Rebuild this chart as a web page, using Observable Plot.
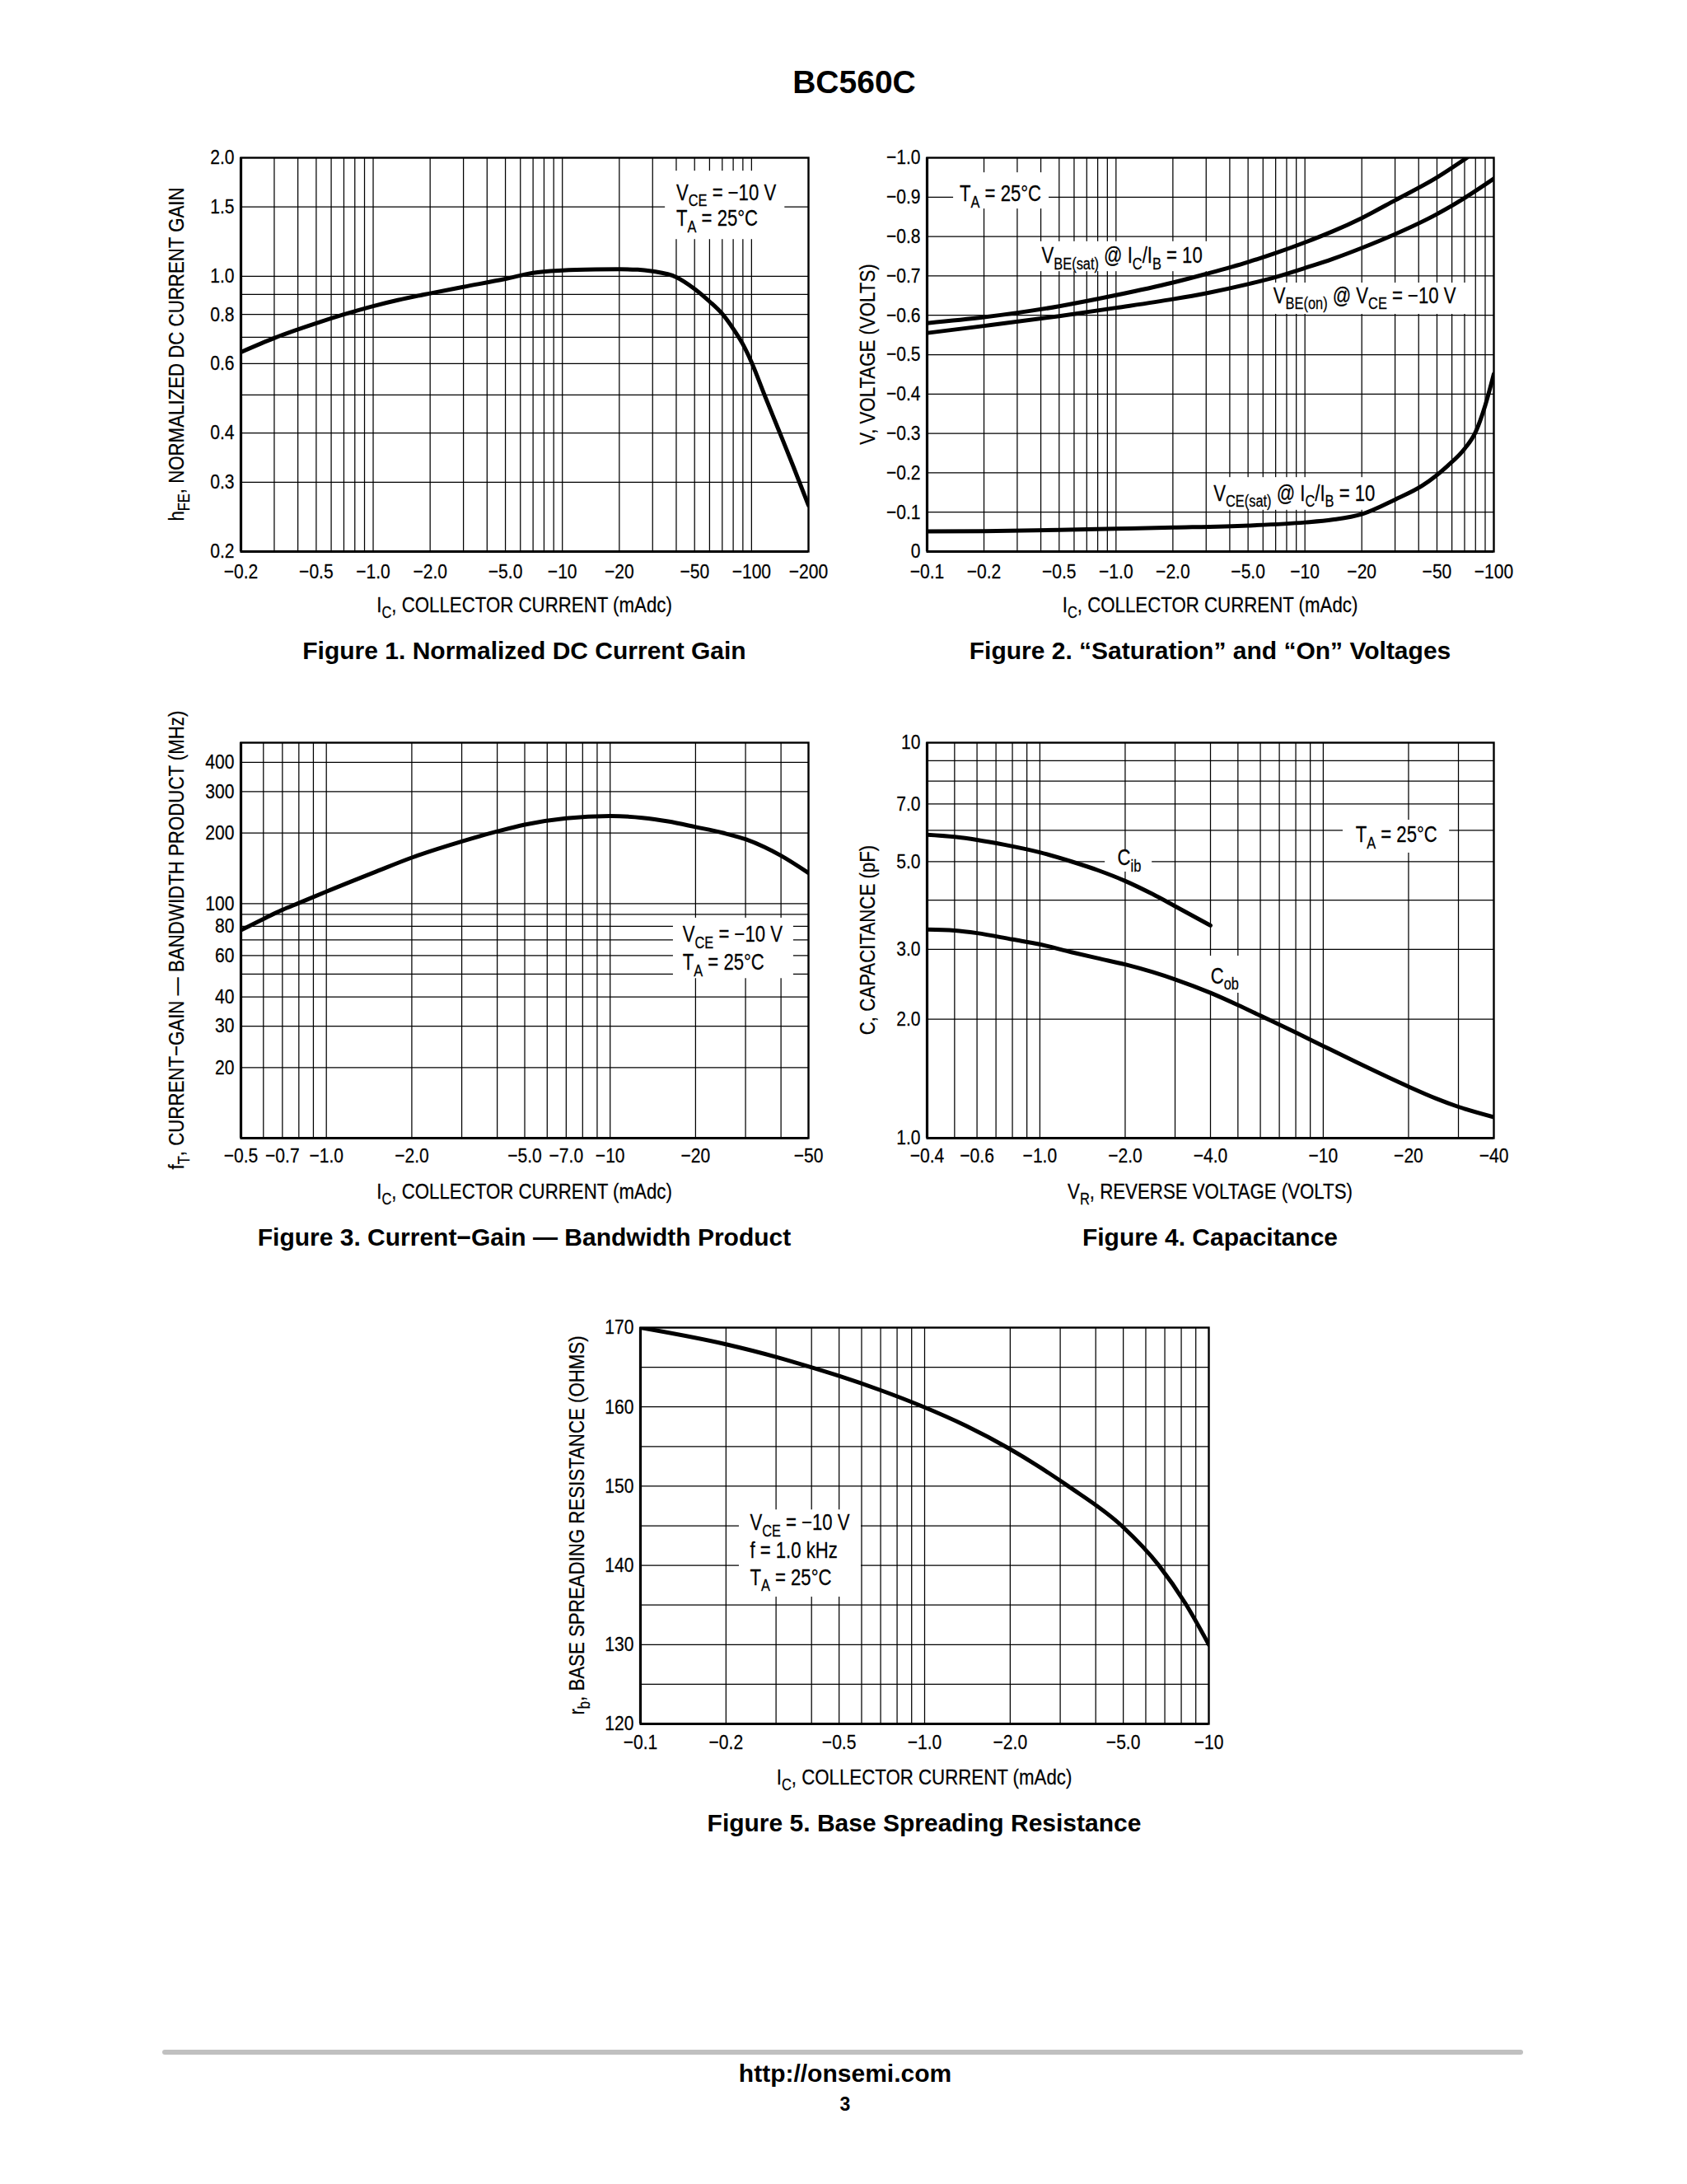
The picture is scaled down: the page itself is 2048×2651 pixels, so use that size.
<!DOCTYPE html>
<html>
<head>
<meta charset="utf-8">
<script src="https://cdn.jsdelivr.net/npm/d3@7"></script>
<script src="https://cdn.jsdelivr.net/npm/@observablehq/plot@0.6"></script>
<style>
  html, body { margin: 0; padding: 0; background: #fff; }
  #page { position: relative; width: 2048px; height: 2651px; overflow: hidden; background: #fff; }
  #page svg { position: absolute; }
</style>
</head>
<body>
<div id="page"></div>
<script>
// ---------------- DATA ----------------
// Figure 1 — Normalized DC current gain
const fig1Ic  = [0.2, 0.3, 0.5, 0.7, 1.0, 1.35, 2.0, 3.0, 5.0, 7.0, 10, 15, 20, 25, 30, 40, 50, 60, 70, 80, 90, 100, 117, 140, 165, 200];
const fig1Hfe = [0.642, 0.697, 0.76, 0.80, 0.84, 0.87, 0.905, 0.94, 0.985, 1.02, 1.035, 1.041, 1.042, 1.04, 1.03, 0.995, 0.929, 0.863, 0.803, 0.736, 0.672, 0.605, 0.50, 0.404, 0.332, 0.262];
const fig1XTicks  = [0.2, 0.5, 1, 2, 5, 10, 20, 50, 100, 200];
const fig1XLabels = ["−0.2", "−0.5", "−1.0", "−2.0", "−5.0", "−10", "−20", "−50", "−100", "−200"];
const fig1YTicks  = [0.2, 0.3, 0.4, 0.6, 0.8, 1.0, 1.5, 2.0];
const fig1YLabels = ["0.2", "0.3", "0.4", "0.6", "0.8", "1.0", "1.5", "2.0"];
const fig1YGrid   = [0.3, 0.4, 0.5, 0.6, 0.7, 0.8, 0.9, 1.0, 1.5];

// Figure 2 — "Saturation" and "On" voltages (magnitudes, volts)
const fig2VbeSatIc = [0.1, 0.2, 0.5, 1.0, 2.0, 3.0, 5.0, 7.0, 10, 14, 20, 30, 50, 72];
const fig2VbeSat   = [0.58, 0.595, 0.623, 0.651, 0.683, 0.705, 0.735, 0.758, 0.785, 0.813, 0.847, 0.892, 0.950, 1.0];
const fig2VbeOnIc  = [0.1, 0.2, 0.5, 1.0, 2.0, 3.0, 5.0, 7.0, 10, 14, 20, 30, 50, 70, 100];
const fig2VbeOn    = [0.555, 0.573, 0.598, 0.619, 0.641, 0.656, 0.679, 0.697, 0.72, 0.743, 0.771, 0.806, 0.857, 0.898, 0.947];
const fig2VceSatIc = [0.1, 0.2, 0.5, 1.0, 2.0, 5.0, 10, 14, 20, 30, 42, 57, 70, 80, 90, 100];
const fig2VceSat   = [0.051, 0.052, 0.055, 0.058, 0.061, 0.066, 0.074, 0.081, 0.095, 0.132, 0.168, 0.218, 0.261, 0.303, 0.371, 0.451];
const fig2XTicks  = [0.1, 0.2, 0.5, 1, 2, 5, 10, 20, 50, 100];
const fig2XLabels = ["−0.1", "−0.2", "−0.5", "−1.0", "−2.0", "−5.0", "−10", "−20", "−50", "−100"];
const fig2YTicks  = [0, 0.1, 0.2, 0.3, 0.4, 0.5, 0.6, 0.7, 0.8, 0.9, 1.0];
const fig2YLabels = ["0", "−0.1", "−0.2", "−0.3", "−0.4", "−0.5", "−0.6", "−0.7", "−0.8", "−0.9", "−1.0"];
const fig2YGrid   = [0.1, 0.2, 0.3, 0.4, 0.5, 0.6, 0.7, 0.8, 0.9];

// Figure 3 — Current-gain bandwidth product (MHz)
const fig3Ic = [0.5, 0.6, 0.7, 0.8, 1.0, 1.5, 2.0, 3.0, 4.0, 5.0, 7.0, 10, 13, 16, 20, 25, 30, 35, 40, 50];
const fig3Ft = [77, 86, 94, 100.5, 112.5, 137, 157, 184, 203, 217, 231, 236, 232, 224, 212, 200, 188, 174, 160, 135];
const fig3XTicks  = [0.5, 0.7, 1, 2, 5, 7, 10, 20, 50];
const fig3XLabels = ["−0.5", "−0.7", "−1.0", "−2.0", "−5.0", "−7.0", "−10", "−20", "−50"];
const fig3YTicks  = [20, 30, 40, 60, 80, 100, 200, 300, 400];
const fig3YLabels = ["20", "30", "40", "60", "80", "100", "200", "300", "400"];
const fig3YGrid   = [20, 30, 40, 50, 60, 70, 80, 90, 100, 200, 300, 400];

// Figure 4 — Capacitance (pF) vs reverse voltage
const fig4CibV = [0.4, 0.5, 0.6, 0.75, 1.0, 1.3, 1.6, 2.0, 2.5, 3.0, 4.0];
const fig4Cib  = [5.85, 5.78, 5.68, 5.52, 5.28, 5.0, 4.76, 4.47, 4.14, 3.86, 3.45];
const fig4CobV = [0.4, 0.5, 0.6, 0.8, 1.0, 1.3, 1.6, 2.0, 2.5, 3.0, 4.0, 5.0, 6.0, 8.0, 10, 13, 20, 25, 30, 40];
const fig4Cob  = [3.37, 3.35, 3.30, 3.18, 3.09, 2.95, 2.85, 2.75, 2.63, 2.52, 2.33, 2.17, 2.04, 1.85, 1.71, 1.56, 1.35, 1.26, 1.20, 1.13];
const fig4XTicks  = [0.4, 0.6, 1, 2, 4, 10, 20, 40];
const fig4XLabels = ["−0.4", "−0.6", "−1.0", "−2.0", "−4.0", "−10", "−20", "−40"];
const fig4YTicks  = [1, 2, 3, 5, 7, 10];
const fig4YLabels = ["1.0", "2.0", "3.0", "5.0", "7.0", "10"];
const fig4YGrid   = [2, 3, 4, 5, 6, 7, 8, 9];

// Figure 5 — Base spreading resistance (ohms)
const fig5Ic = [0.1, 0.2, 0.3, 0.39, 0.5, 0.7, 0.96, 1.4, 1.97, 3.2, 4.97, 6.67, 8.27, 10];
const fig5Rb = [170, 167.9, 166.3, 165.1, 163.9, 162.1, 160.2, 157.6, 154.8, 150, 144.9, 140, 135.2, 130];
const fig5XTicks  = [0.1, 0.2, 0.5, 1, 2, 5, 10];
const fig5XLabels = ["−0.1", "−0.2", "−0.5", "−1.0", "−2.0", "−5.0", "−10"];
const fig5YTicks  = [120, 130, 140, 150, 160, 170];
const fig5YLabels = ["120", "130", "140", "150", "160", "170"];
const fig5YGrid   = [125, 130, 135, 140, 145, 150, 155, 160, 165];

// ---------------- LAYOUT / STYLE ----------------
const SANS = "'Liberation Sans', Arial, Helvetica, sans-serif";
const SX_TICK = 0.86, SX_TITLE = 0.84, SX_NOTE = 0.82;   // horizontal condensing (Helvetica Condensed look)
const TICK_FS = 24.5, TITLE_FS = 26.5, NOTE_FS = 27;
const ML = 110, MR = 40, MT = 20, MB = 110;

function zip(xs, ys) { return xs.map((x, i) => ({x, y: ys[i]})); }
function logGrid(lo, hi) {
  const out = [];
  for (let e = Math.floor(Math.log10(lo)) - 1; e <= Math.ceil(Math.log10(hi)); e++)
    for (let m = 1; m < 10; m++) {
      const v = +(m * Math.pow(10, e)).toPrecision(6);
      if (v > lo * 1.0001 && v < hi / 1.0001) out.push(v);
    }
  return out;
}

function rich(g, str, x, y, o = {}) {
  const fs = o.size || NOTE_FS;
  const t = g.append("text")
    .attr("transform", `translate(${x},${y})${o.rotate ? " rotate(-90)" : ""} scale(${o.sx || SX_NOTE},1)`)
    .attr("font-family", SANS)
    .attr("font-size", fs)
    .attr("fill", "#000")
    .attr("stroke", "#000").attr("stroke-width", 0.25)
    .attr("text-anchor", o.anchor || "start");
  const parts = str.split(/(_\{[^}]*\})/).filter(s => s.length);
  let shifted = false;
  const sh = fs * 0.28;
  for (const p of parts) {
    if (p.startsWith("_{")) {
      t.append("tspan").attr("font-size", fs * 0.74).attr("dy", shifted ? 0 : sh).text(p.slice(2, -1));
      shifted = true;
    } else {
      t.append("tspan").attr("dy", shifted ? -sh : 0).text(p);
      shifted = false;
    }
  }
  return t;
}

function makeChart(c) {
  const W = c.R - c.L, H = c.B - c.T;
  const marks = [
    Plot.ruleX(c.xGrid, {stroke: "#000", strokeWidth: 1.25}),
    Plot.ruleY(c.yGrid, {stroke: "#000", strokeWidth: 1.25}),
    Plot.rect(c.boxes, {x1: "x1", x2: "x2", y1: "y1", y2: "y2", fill: "white"}),
    Plot.frame({stroke: "#000", strokeWidth: 2.4}),
    Plot.ruleY([c.yDomain[0]], {stroke: "#000", strokeWidth: 3.2}),
    Plot.ruleX([c.xDomain[0]], {stroke: "#000", strokeWidth: 3.2}),
    ...c.series.map(s => Plot.line(s, {x: "x", y: "y", stroke: "#000", strokeWidth: 5, curve: "monotone-x", clip: true})),
    // tick labels drawn as text marks positioned by the scales
    Plot.text(c.xTicks, {x: d => d, text: (d, i) => c.xLabels[i], frameAnchor: "bottom", dy: c.xTickDy,
      textAnchor: "middle", lineAnchor: "middle", fontSize: TICK_FS, fill: "#000", stroke: "#000", strokeWidth: 0.25}),
    Plot.text(c.yTicks, {y: d => d, text: (d, i) => c.yLabels[i], frameAnchor: "left", dx: -8,
      textAnchor: "end", lineAnchor: "middle", fontSize: TICK_FS, fill: "#000", stroke: "#000", strokeWidth: 0.25})
  ];
  const svg = Plot.plot({
    width: ML + W + MR, height: MT + H + MB,
    marginLeft: ML, marginRight: MR, marginTop: MT, marginBottom: MB,
    style: {fontFamily: SANS, fontSize: TICK_FS + "px", color: "#000", background: "transparent", overflow: "visible"},
    x: {type: "log", domain: c.xDomain, axis: null},
    y: {type: c.yType, domain: c.yDomain, axis: null},
    marks
  });
  svg.style.left = (c.L - ML) + "px";
  svg.style.top = (c.T - MT) + "px";
  // condense Plot's tick label texts horizontally around their anchors
  d3.select(svg).selectAll("text").each(function () {
    const tr = this.getAttribute("transform") || "";
    this.setAttribute("transform", `${tr} scale(${SX_TICK},1)`);
  });
  const sx = svg.scale("x"), sy = svg.scale("y");
  const g = d3.select(svg).append("g");
  for (const n of c.notes) rich(g, n.t, sx.apply(n.x), sy.apply(n.y), {size: NOTE_FS, sx: SX_NOTE});
  rich(g, c.xTitle, ML + W / 2, MT + H + 74, {anchor: "middle", size: TITLE_FS, sx: SX_TITLE});
  rich(g, c.yTitle, ML - c.yTitleOff, MT + H / 2, {anchor: "middle", size: TITLE_FS, sx: SX_TITLE, rotate: true});
  document.getElementById("page").appendChild(svg);
}

const IC_TITLE = "I_{C}, COLLECTOR CURRENT (mAdc)";

makeChart({
  L: 292, R: 981, T: 191, B: 669, xTickDy: 25,
  xDomain: [0.2, 200], xTicks: fig1XTicks, xLabels: fig1XLabels, xGrid: logGrid(0.2, 200),
  yType: "log", yDomain: [0.2, 2.0], yTicks: fig1YTicks, yLabels: fig1YLabels, yGrid: fig1YGrid,
  series: [zip(fig1Ic, fig1Hfe)],
  boxes: [{x1: 35, x2: 150, y1: 1.24, y2: 1.85}],
  notes: [{x: 40.2, y: 1.56, t: "V_{CE} = −10 V"}, {x: 40.2, y: 1.34, t: "T_{A} = 25°C"}],
  xTitle: IC_TITLE, yTitle: "h_{FE}, NORMALIZED DC CURRENT GAIN", yTitleOff: 69
});

makeChart({
  L: 1125, R: 1813, T: 191, B: 669, xTickDy: 25,
  xDomain: [0.1, 100], xTicks: fig2XTicks, xLabels: fig2XLabels, xGrid: logGrid(0.1, 100),
  yType: "linear", yDomain: [0, 1.0], yTicks: fig2YTicks, yLabels: fig2YLabels, yGrid: fig2YGrid,
  series: [zip(fig2VbeSatIc, fig2VbeSat), zip(fig2VbeOnIc, fig2VbeOn), zip(fig2VceSatIc, fig2VceSat)],
  boxes: [
    {x1: 0.138, x2: 0.442, y1: 0.87, y2: 0.962},
    {x1: 0.369, x2: 3.19, y1: 0.711, y2: 0.787},
    {x1: 6.26, x2: 74, y1: 0.6025, y2: 0.682},
    {x1: 3.04, x2: 27.7, y1: 0.105, y2: 0.188}
  ],
  notes: [
    {x: 0.1494, y: 0.889, t: "T_{A} = 25°C"},
    {x: 0.406, y: 0.732, t: "V_{BE(sat)} @ I_{C}/I_{B} = 10"},
    {x: 6.84, y: 0.63, t: "V_{BE(on)} @ V_{CE} = −10 V"},
    {x: 3.30, y: 0.128, t: "V_{CE(sat)} @ I_{C}/I_{B} = 10"}
  ],
  xTitle: IC_TITLE, yTitle: "V, VOLTAGE (VOLTS)", yTitleOff: 63
});

makeChart({
  L: 292, R: 981, T: 901, B: 1381, xTickDy: 22,
  xDomain: [0.5, 50], xTicks: fig3XTicks, xLabels: fig3XLabels, xGrid: logGrid(0.5, 50),
  yType: "log", yDomain: [10, 485], yTicks: fig3YTicks, yLabels: fig3YLabels, yGrid: fig3YGrid,
  series: [zip(fig3Ic, fig3Ft)],
  boxes: [{x1: 16.7, x2: 44.3, y1: 47.9, y2: 86.7}],
  notes: [{x: 18.07, y: 68.5, t: "V_{CE} = −10 V"}, {x: 18.07, y: 52.0, t: "T_{A} = 25°C"}],
  xTitle: IC_TITLE, yTitle: "f_{T}, CURRENT−GAIN — BANDWIDTH PRODUCT (MHz)", yTitleOff: 69
});

makeChart({
  L: 1125, R: 1813, T: 901, B: 1381, xTickDy: 22,
  xDomain: [0.4, 40], xTicks: fig4XTicks, xLabels: fig4XLabels, xGrid: logGrid(0.4, 40),
  yType: "log", yDomain: [1, 10], yTicks: fig4YTicks, yLabels: fig4YLabels, yGrid: fig4YGrid,
  series: [zip(fig4CibV, fig4Cib), zip(fig4CobV, fig4Cob)],
  boxes: [
    {x1: 1.70, x2: 2.49, y1: 4.71, y2: 5.36},
    {x1: 3.84, x2: 5.33, y1: 2.326, y2: 2.887},
    {x1: 11.75, x2: 27.9, y1: 5.26, y2: 6.37}
  ],
  notes: [
    {x: 1.884, y: 4.89, t: "C_{ib}"},
    {x: 4.02, y: 2.457, t: "C_{ob}"},
    {x: 13.05, y: 5.59, t: "T_{A} = 25°C"}
  ],
  xTitle: "V_{R}, REVERSE VOLTAGE (VOLTS)", yTitle: "C, CAPACITANCE (pF)", yTitleOff: 63
});

makeChart({
  L: 777, R: 1467, T: 1611, B: 2092, xTickDy: 23,
  xDomain: [0.1, 10], xTicks: fig5XTicks, xLabels: fig5XLabels, xGrid: logGrid(0.1, 10),
  yType: "linear", yDomain: [120, 170], yTicks: fig5YTicks, yLabels: fig5YLabels, yGrid: fig5YGrid,
  series: [zip(fig5Ic, fig5Rb)],
  boxes: [{x1: 0.2227, x2: 0.598, y1: 136.0, y2: 147.0}],
  notes: [
    {x: 0.2436, y: 144.4, t: "V_{CE} = −10 V"},
    {x: 0.2436, y: 140.9, t: "f = 1.0 kHz"},
    {x: 0.2436, y: 137.5, t: "T_{A} = 25°C"}
  ],
  xTitle: IC_TITLE, yTitle: "r_{b}, BASE SPREADING RESISTANCE (OHMS)", yTitleOff: 68
});

// ---------------- PAGE TEXT ----------------
const page = d3.select("#page").insert("svg", ":first-child")
  .attr("width", 2048).attr("height", 2651)
  .style("left", "0px").style("top", "0px");

page.append("text").attr("x", 1037).attr("y", 113).attr("text-anchor", "middle")
  .attr("font-family", SANS).attr("font-weight", "bold").attr("font-size", 39).text("BC560C");

const captions = [
  {cx: 636.5, y: 800, t: "Figure 1. Normalized DC Current Gain"},
  {cx: 1469, y: 800, t: "Figure 2. “Saturation” and “On” Voltages"},
  {cx: 636.5, y: 1512, t: "Figure 3. Current−Gain — Bandwidth Product"},
  {cx: 1469, y: 1512, t: "Figure 4. Capacitance"},
  {cx: 1122, y: 2223, t: "Figure 5. Base Spreading Resistance"}
];
for (const c of captions)
  page.append("text").attr("x", c.cx).attr("y", c.y).attr("text-anchor", "middle")
    .attr("font-family", SANS).attr("font-weight", "bold").attr("font-size", 30).text(c.t);

page.append("line").attr("x1", 200).attr("x2", 1846).attr("y1", 2491).attr("y2", 2491)
  .attr("stroke", "#c0c0c0").attr("stroke-width", 6).attr("stroke-linecap", "round");
page.append("text").attr("x", 1026).attr("y", 2527).attr("text-anchor", "middle")
  .attr("font-family", SANS).attr("font-weight", "bold").attr("font-size", 30).text("http://onsemi.com");
page.append("text").attr("x", 1026).attr("y", 2562).attr("text-anchor", "middle")
  .attr("font-family", SANS).attr("font-weight", "bold").attr("font-size", 23).text("3");
</script>
</body>
</html>
